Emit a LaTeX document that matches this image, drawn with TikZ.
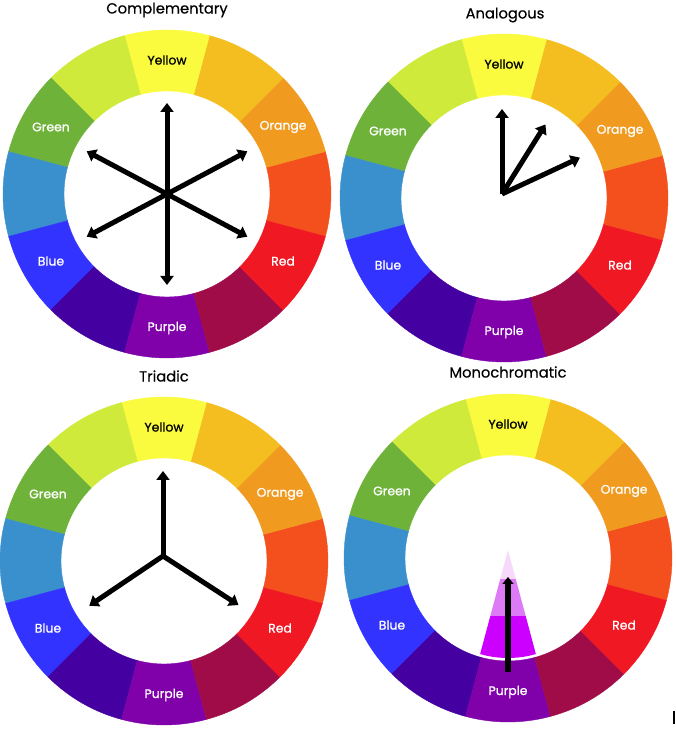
\documentclass[tikz,border=0pt]{standalone}
\usepackage{fontspec}
\setmainfont{Poppins}
\newfontfamily\lblfont[FakeBold=1]{Poppins}
\newfontfamily\ttlfont[FakeBold=0.4]{Poppins}
\usetikzlibrary{arrows.meta}
\definecolor{hue0}{HTML}{F4501E}
\definecolor{hue30}{HTML}{F09B20}
\definecolor{hue60}{HTML}{F4BE20}
\definecolor{hue90}{HTML}{FAFA3E}
\definecolor{hue120}{HTML}{CFEA3A}
\definecolor{hue150}{HTML}{6EB23A}
\definecolor{hue180}{HTML}{3A90CC}
\definecolor{hue210}{HTML}{3333FF}
\definecolor{hue240}{HTML}{4400A0}
\definecolor{hue270}{HTML}{8000AA}
\definecolor{hue300}{HTML}{A00C48}
\definecolor{hue330}{HTML}{F01923}
\definecolor{tint1}{HTML}{F6D9FB}
\definecolor{tint2}{HTML}{DD7AF6}
\definecolor{tint3}{HTML}{CC00FF}

\begin{document}
\begin{tikzpicture}[x=1pt,y=1pt,>={Triangle[length=9pt,width=13pt]},
  lbl/.style={text=white,font=\lblfont\fontsize{12.4}{13}\selectfont},
  ttl/.style={font=\ttlfont\fontsize{14.7}{15}\selectfont},
  ray/.style={line width=5pt},
  wheel/.pic={
    \foreach \a in {0,30,...,330}
      \filldraw[fill=hue\a,draw=hue\a,line width=0.4pt]
        (\a-15:103pt) arc[start angle=\a-15,end angle=\a+15,radius=103pt]
        -- (\a+15:164pt) arc[start angle=\a+15,end angle=\a-15,radius=164pt] -- cycle;
    \node[lbl,text=black] (yellow) at (90:134pt) {Yellow};
    \node[lbl] (orange) at (30:134pt) {Orange};
    \node[lbl] (red) at (-30:134pt) {Red};
    \node[lbl] (purple) at (-90:134pt) {Purple};
    \node[lbl] (blue) at (210:134pt) {Blue};
    \node[lbl] (green) at (150:134pt) {Green};
  }]
 \useasboundingbox (0,0) rectangle (676,731);

 % the four wheels
 \pic (w_comp) at (167,537) {wheel};
 \pic (w_anal) at (504,533) {wheel};
 \pic (w_tri) at (164,170) {wheel};
 \pic (w_mono) at (508,173) {wheel};

 \node[ttl] (t_comp) at (167,721) {Complementary};
 \node[ttl] (t_anal) at (505,716) {Analogous};
 \node[ttl] (t_tri) at (164,355) {Triadic};
 \node[ttl] (t_mono) at (508,359) {Monochromatic};

 % complementary
 \coordinate (c_0) at (167,537);
 \path (c_0) +(90:91pt) coordinate (c_n) +(270:91pt) coordinate (c_s)
   +(28:91pt) coordinate (c_ne) +(208:91pt) coordinate (c_sw)
   +(152:91pt) coordinate (c_nw) +(-28:91pt) coordinate (c_se);
 \draw[ray,<->] (c_n) -- (c_s);
 \draw[ray,<->] (c_ne) -- (c_sw);
 \draw[ray,<->] (c_nw) -- (c_se);

 % analogous
 \coordinate (a_0) at (502,537);
 \path (a_0) +(90:85pt) coordinate (a_1) +(58:82pt) coordinate (a_2)
   +(25:86pt) coordinate (a_3);
 \foreach \t in {a_1,a_2,a_3}
   \draw[ray,->,line join=round] (a_0) -- (\t);

 % triadic
 \coordinate (r_0) at (163,175);
 \path (r_0) +(90:85pt) coordinate (r_1) +(214:89pt) coordinate (r_2)
   +(327:90pt) coordinate (r_3);
 \foreach \t in {r_1,r_2,r_3}
   \draw[ray,->] (r_0) -- (\t);

 % monochromatic
 \coordinate (m_apex) at (508,181);
 \begin{scope}
  \clip (508,173) circle[radius=100pt];
  \clip (m_apex) -- +(255:140pt) -- +(285:140pt) -- cycle;
  \fill[tint3] (400,0) rectangle (620,115);
  \fill[tint2] (400,115) rectangle (620,152);
  \fill[tint1] (400,152) rectangle (620,190);
 \end{scope}
 \coordinate (m_0) at (508,59);
 \coordinate (m_1) at (508,154);
 \draw[line width=6.5pt,-{Triangle[length=7pt,width=11pt]}] (m_0) -- (m_1);

 \fill (673,7) rectangle (675,20);
\end{tikzpicture}
\end{document}
